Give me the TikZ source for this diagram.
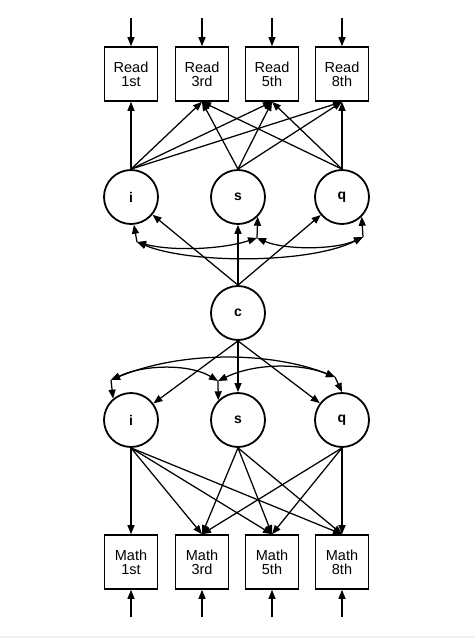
\documentclass[tikz,border=0pt]{standalone}
\usepackage{fontspec}
\setmainfont{Liberation Sans}
\usetikzlibrary{arrows.meta,positioning}

\begin{document}
\begin{tikzpicture}[x=1pt,y=-1pt,
    obsbox/.style={draw,line width=1.6pt,minimum width=53pt,minimum height=54pt,inner sep=0pt,align=center,font=\fontsize{14.5}{14}\selectfont},
    latent/.style={draw,circle,line width=1.8pt,minimum size=54pt,inner sep=0pt,font=\fontsize{14}{14}\selectfont\bfseries},
    path/.style={line width=1.25pt,-{Triangle[length=9pt,width=7pt]}},
    covpath/.style={line width=1.25pt,{Triangle[length=9pt,width=7pt]}-{Triangle[length=9pt,width=7pt]}}]

    \useasboundingbox (0,0) rectangle (474,638);
    \fill[gray!12] (0,636) rectangle (474,638);

    \node[obsbox] (read1) at (131,74) {Read\\1st};
    \node[obsbox] (read3) at (202,74) {Read\\3rd};
    \node[obsbox] (read5) at (272,74) {Read\\5th};
    \node[obsbox] (read8) at (342,74) {Read\\8th};

    \node[latent] (ri) at (131,197) {i};
    \node[latent] (rs) at (238,197) {s};
    \node[latent] (rq) at (342,197) {q};

    \node[latent] (c) at (238,313) {c};

    \node[latent] (mi) at (131,420) {i};
    \node[latent] (ms) at (238,420) {s};
    \node[latent] (mq) at (342,420) {q};

    \node[obsbox] (math1) at (131,562) {Math\\1st};
    \node[obsbox] (math3) at (202,562) {Math\\3rd};
    \node[obsbox] (math5) at (272,562) {Math\\5th};
    \node[obsbox] (math8) at (342,562) {Math\\8th};

    % residuals
    \coordinate (eread1) at (131,18);
    \coordinate (eread3) at (202,18);
    \coordinate (eread5) at (272,18);
    \coordinate (eread8) at (342,18);
    \coordinate (emath1) at (131,617);
    \coordinate (emath3) at (202,617);
    \coordinate (emath5) at (272,617);
    \coordinate (emath8) at (342,617);

    \draw[path] (eread1) -- (read1.north);
    \draw[path] (eread3) -- (read3.north);
    \draw[path] (eread5) -- (read5.north);
    \draw[path] (eread8) -- (read8.north);
    \draw[path] (emath1) -- (math1.south);
    \draw[path] (emath3) -- (math3.south);
    \draw[path] (emath5) -- (math5.south);
    \draw[path] (emath8) -- (math8.south);

    % loadings, reading
    \draw[path] (ri.north) -- (read1.south);
    \draw[path] (ri.north) -- (read3.south);
    \draw[path] (ri.north) -- (read5.south);
    \draw[path] (ri.north) -- (read8.south);
    \draw[path] (rs.north) -- (read3.south);
    \draw[path] (rs.north) -- (read5.south);
    \draw[path] (rs.north) -- (read8.south);
    \draw[path] (rq.north) -- (read3.south);
    \draw[path] (rq.north) -- (read5.south);
    \draw[path] (rq.north) -- (read8.south);

    % loadings, math
    \draw[path] (mi.south) -- (math1.north);
    \draw[path] (mi.south) -- (math3.north);
    \draw[path] (mi.south) -- (math5.north);
    \draw[path] (mi.south) -- (math8.north);
    \draw[path] (ms.south) -- (math3.north);
    \draw[path] (ms.south) -- (math5.north);
    \draw[path] (ms.south) -- (math8.north);
    \draw[path] (mq.south) -- (math3.north);
    \draw[path] (mq.south) -- (math5.north);
    \draw[path] (mq.south) -- (math8.north);

    % c
    \draw[path] (c.north) -- (ri);
    \draw[path] (c.north) -- (rs);
    \draw[path] (c.north) -- (rq);
    \draw[path] (c.south) -- (mi);
    \draw[path] (c.south) -- (ms);
    \draw[path] (c.south) -- (mq);

    % covariances, reading
    \coordinate (jri) at (137,242);
    \coordinate (jrs) at (257,238);
    \coordinate (jrq) at (363,237);
    \draw[path] (jri) -- (ri.-84);
    \draw[path] (jrs) -- (rs.-45);
    \draw[path] (jrq) -- (rq.-45);
    \draw[covpath] (jri) .. controls (170,251) and (220,250) .. (jrs);
    \draw[covpath] (jri) .. controls (190,264) and (310,264) .. (jrq);
    \draw[covpath] (jrs) .. controls (285,250) and (335,250) .. (jrq);

    % covariances, math
    \coordinate (jmi) at (111,380);
    \coordinate (jms) at (218,381);
    \coordinate (jmq) at (335,377);
    \draw[path] (jmi) -- (mi.130);
    \draw[path] (jms) -- (ms.135);
    \draw[path] (jmq) -- (mq.north);
    \draw[covpath] (jmi) .. controls (180,351) and (270,351) .. (jmq);
    \draw[covpath] (jmi) .. controls (145,364) and (190,364) .. (jms);
    \draw[covpath] (jms) .. controls (255,363) and (300,363) .. (jmq);

\end{tikzpicture}
\end{document}
